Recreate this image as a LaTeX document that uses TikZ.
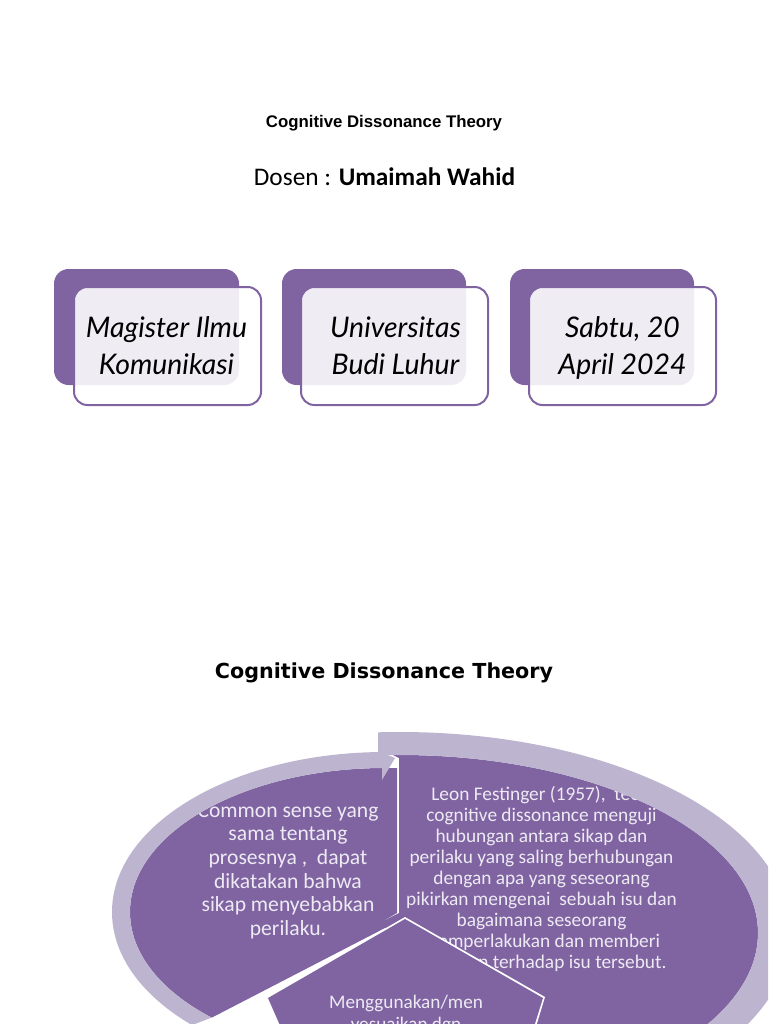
\documentclass[tikz,border=0pt]{standalone}
\usepackage{fontspec}
\setmainfont{Carlito}
\newfontfamily\titlefont{Liberation Sans}
\newfontfamily\headfont{DejaVu Sans}
\newfontfamily\handfont{Lato}
\definecolor{pur}{HTML}{8064A2}
\definecolor{ringc}{HTML}{BDB5D0}
\definecolor{txtc}{HTML}{EDEAF3}
\newcommand\hstrut{\rule[-5pt]{0pt}{20pt}}
\tikzset{
 backbox/.style={fill=pur,rounded corners=11pt,draw=none},
 frontbox/.style={draw=pur,line width=1.5pt,fill=white,fill opacity=.88,rounded corners=10pt},
 handtext/.style={align=center,inner sep=0,text=black,font=\handfont\itshape\fontsize{21.3}{27.75}\selectfont},
 bodya/.style={align=center,inner sep=0,text=txtc,font=\fontsize{16.2}{17.7}\selectfont},
 bodyb/.style={align=center,inner sep=0,text=txtc,font=\fontsize{14.5}{15.8}\selectfont},
}
\begin{document}
\begin{tikzpicture}[x=0.75pt,y=-0.75pt]
\useasboundingbox (0,0) rectangle (768,1024);
\node[inner sep=0,font=\titlefont\bfseries\fontsize{12.6}{14}\selectfont] (title) at (384,123.5) {Cognitive Dissonance Theory};
\node[inner sep=0,font=\fontsize{19}{22}\selectfont] (dosen) at (384.5,177) {Dosen : \textbf{Umaimah Wahid}};
\node[inner sep=0,font=\headfont\bfseries\fontsize{15.5}{18}\selectfont] (head) at (384,673) {Cognitive Dissonance Theory};
% boxes
\draw[backbox] (54,269) rectangle (239,385);
\draw[backbox] (282,269) rectangle (466,385);
\draw[backbox] (510,269) rectangle (694,385);
\draw[frontbox] (74,287) rectangle (261,405);
\draw[frontbox] (301,287) rectangle (488,405);
\draw[frontbox] (529,287) rectangle (716,405);
\node[handtext] (b1) at (166.5,348.5) {\hstrut Magister Ilmu\\\hstrut Komunikasi};
\node[handtext] (b2) at (395.5,348.5) {\hstrut Universitas\\\hstrut Budi Luhur};
\node[handtext] (b3) at (622.5,348.5) {\hstrut Sabtu, 20\\\hstrut April 2024};
% cycle
\begin{scope}
\clip (0,700) rectangle (768,1024);
% right segment
\begin{scope}
\clip (393,700) -- (393,755) -- (399,758) -- (399,913) -- (385,920) -- (385,940) -- (420,1024) -- (768,1024) -- (768,700) -- cycle;
\fill[pur] (400,933) ellipse [x radius=358,y radius=178];
\end{scope}
% left segment
\begin{scope}
\clip (100,700) -- (397,700) -- (397,913) -- (385,920) -- (385,928) -- (213,1017) -- (195,1024) -- (100,1024) -- cycle;
\fill[pur] (385,912) ellipse [x radius=255,y radius=144];
\end{scope}
\node[bodya] (t1) at (288,871) {Common sense yang\\sama tentang\\prosesnya ,\ \ dapat\\dikatakan bahwa\\sikap menyebabkan\\perilaku.};
\node[bodyb] (t2) at (541.5,879) {Leon Festinger (1957),\ \ teori\\cognitive dissonance menguji\\hubungan antara sikap dan\\perilaku yang saling berhubungan\\dengan apa yang seseorang\\pikirkan mengenai\ \ sebuah isu dan\\bagaimana seseorang\\memperlakukan dan memberi\\penilaian terhadap isu tersebut.};
% rings
\begin{scope}
\clip (378,700) rectangle (768,1024);
\fill[ringc,even odd rule] (400,933) ellipse [x radius=390,y radius=201] (400,933) ellipse [x radius=358,y radius=178];
\end{scope}
\begin{scope}
\clip (100,700) -- (382,700) -- (382,931) -- (213,1017) -- (195,1024) -- (100,1024) -- cycle;
\fill[ringc,even odd rule] (385,912) ellipse [x radius=273,y radius=160] (385,912) ellipse [x radius=255,y radius=144];
\end{scope}
\fill[ringc] (378,751) -- (395,758) -- (382,780) -- (382,760) -- cycle;
% bottom segment
\coordinate (hA) at (405,919);
\coordinate (hB) at (543,998);
\coordinate (hC) at (533,1030);
\coordinate (hD) at (282,1030);
\coordinate (hE) at (268,998);
\fill[white] (405,917) -- (545,997) -- (535,1030) -- (280,1030) -- (266,997) -- cycle;
\fill[pur] (hA) -- (hB) -- (hC) -- (hD) -- (hE) -- cycle;
\node[bodyb,font=\fontsize{14.4}{16.5}\selectfont,anchor=north] (t3) at (406,995) {Menggunakan/men\\yesuaikan dgn};
\end{scope}
\end{tikzpicture}
\end{document}
